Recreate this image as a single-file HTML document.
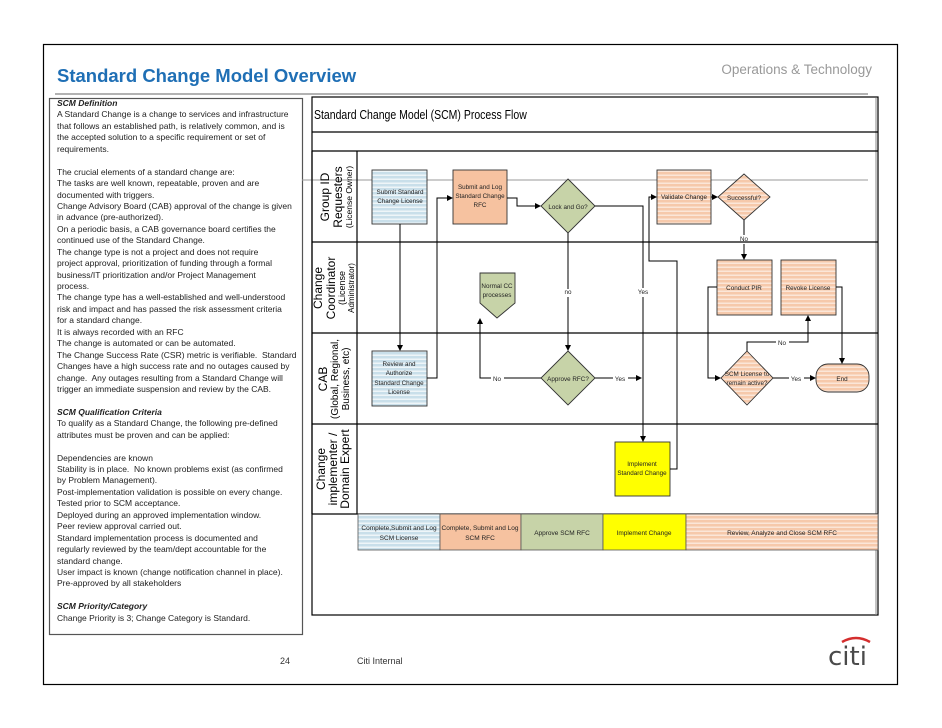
<!DOCTYPE html>
<html><head><meta charset="utf-8"><style>
body{margin:0;width:942px;height:728px;background:#fff;position:relative;overflow:hidden;font-family:"Liberation Sans",sans-serif}
.lt{position:absolute;left:57px;font-family:"Liberation Sans",sans-serif;font-size:8.5px;color:#222;white-space:nowrap;line-height:11px}
.b{font-weight:bold;font-style:italic}
</style></head><body>
<svg width="942" height="728" style="position:absolute;left:0;top:0" font-family="Liberation Sans, sans-serif">
<defs>
<pattern id="bs" width="4" height="4" patternUnits="userSpaceOnUse"><rect width="4" height="4" fill="#c9dfea"/><rect y="2.5" width="4" height="1.5" fill="#eef5f8"/></pattern>
<pattern id="os" width="4" height="4" patternUnits="userSpaceOnUse"><rect width="4" height="4" fill="#f6c9ab"/><rect y="2.5" width="4" height="1.5" fill="#fbe6d8"/></pattern>
<marker id="a" markerWidth="6" markerHeight="6" refX="5" refY="3" orient="auto" markerUnits="userSpaceOnUse"><path d="M0,0 L6,3 L0,6z" fill="#000"/></marker>
</defs>
<rect x="43.5" y="44.5" width="854" height="640" fill="none" stroke="#000" stroke-width="1.2"/>
<text x="57" y="82" font-size="18.5" font-weight="bold" fill="#1f6fb5">Standard Change Model Overview</text>
<text x="872" y="74" font-size="13.5" fill="#999" text-anchor="end">Operations &amp; Technology</text>
<line x1="55" y1="94" x2="868" y2="94" stroke="#999" stroke-width="1.5"/>
<rect x="49.5" y="98.5" width="253" height="536" fill="#fff" stroke="#555" stroke-width="1.2"/>
<rect x="312" y="97" width="566" height="518" fill="#fff" stroke="#000" stroke-width="1.2"/>
<line x1="876" y1="98" x2="876" y2="615" stroke="#888" stroke-width="1"/>
<line x1="302" y1="180" x2="868" y2="180" stroke="#999" stroke-width="1"/>
<text x="314" y="119" font-size="12.5" transform="translate(314 0) scale(0.84,1) translate(-314 0)">Standard Change Model (SCM) Process Flow</text>
<g stroke="#000" stroke-width="1.2" fill="none">
<line x1="312" y1="132" x2="878" y2="132"/>
<line x1="312" y1="151" x2="878" y2="151"/>
<line x1="312" y1="242" x2="878" y2="242"/>
<line x1="312" y1="333" x2="878" y2="333"/>
<line x1="312" y1="424" x2="878" y2="424"/>
<line x1="312" y1="514" x2="878" y2="514"/>
<line x1="357" y1="151" x2="357" y2="514"/>
<line x1="312" y1="151" x2="312" y2="514"/>
</g>
<g font-size="12" text-anchor="middle" fill="#000">
<g transform="translate(335,197) rotate(-90)"><text y="-6">Group ID</text><text y="7">Requesters</text><text y="17" font-size="8.5">(License Owner)</text></g>
<g transform="translate(333,288) rotate(-90)"><text y="-11">Change</text><text y="2">Coordinator</text><text y="12" font-size="9">(License</text><text y="21" font-size="8">Administrator)</text></g>
<g transform="translate(333,379) rotate(-90)"><text y="-6">CAB</text><text y="5" font-size="10">(Global, Regional,</text><text y="16" font-size="10">Business, etc)</text></g>
<g transform="translate(335,469) rotate(-90)"><text y="-10">Change</text><text y="2">implementer /</text><text y="14">Domain Expert</text></g>
</g>
<g stroke="#555" stroke-width="0.8">
<rect x="358" y="514" width="82" height="36" fill="url(#bs)"/>
<rect x="440" y="514" width="81" height="36" fill="#f6c2a0"/>
<rect x="521" y="514" width="82" height="36" fill="#c7d3a8"/>
<rect x="603" y="514" width="83" height="36" fill="#ffff00"/>
<rect x="686" y="514" width="192" height="36" fill="url(#os)"/>
</g>
<g font-size="6.5" text-anchor="middle" fill="#222">
<text x="399" y="530">Complete,Submit and Log</text><text x="399" y="540">SCM License</text>
<text x="480" y="530">Complete, Submit and Log</text><text x="480" y="540">SCM RFC</text>
<text x="562" y="535">Approve SCM RFC</text>
<text x="644" y="535">Implement Change</text>
<text x="782" y="535">Review, Analyze and Close SCM RFC</text>
</g>
<g stroke="#333" stroke-width="0.9">
<rect x="372" y="170" width="55" height="54" fill="url(#bs)"/>
<rect x="453" y="170" width="54" height="54" fill="#f6c2a0"/>
<polygon points="568,179 595,206 568,233 541,206" fill="#c7d3a8"/>
<rect x="657" y="170" width="54" height="54" fill="url(#os)"/>
<polygon points="744,174 770,197 744,220 718,197" fill="url(#os)"/>
<rect x="717" y="260" width="55" height="55" fill="url(#os)"/>
<rect x="781" y="260" width="55" height="55" fill="url(#os)"/>
<polygon points="480,273 515,273 515,303 497,318 480,303" fill="#c7d3a8"/>
<rect x="372" y="351" width="55" height="55" fill="url(#bs)"/>
<polygon points="568,351 595,378 568,405 541,378" fill="#c7d3a8"/>
<polygon points="747,351 773,378 747,405 721,378" fill="url(#os)"/>
<rect x="816" y="364" width="53" height="28" rx="12" fill="url(#os)"/>
<rect x="615" y="442" width="55" height="54" fill="#ffff00"/>
</g>
<g font-size="6.3" text-anchor="middle" fill="#222">
<text x="400" y="194">Submit Standard</text><text x="400" y="203">Change License</text>
<text x="480" y="189">Submit and Log</text><text x="480" y="198">Standard Change</text><text x="480" y="207">RFC</text>
<text x="568" y="209">Lock and Go?</text>
<text x="684" y="199">Validate Change</text>
<text x="744" y="200">Successful?</text>
<text x="744" y="241">No</text>
<text x="744" y="290">Conduct PIR</text>
<text x="808" y="290">Revoke License</text>
<text x="497" y="288">Normal CC</text><text x="497" y="297">processes</text>
<text x="568" y="294">no</text>
<text x="643" y="294">Yes</text>
<text x="399" y="366">Review and</text><text x="399" y="375">Authorize</text><text x="399" y="385">Standard Change</text><text x="399" y="394">License</text>
<text x="568" y="381">Approve RFC?</text>
<text x="497" y="381">No</text>
<text x="620" y="381">Yes</text>
<text x="747" y="376">SCM License to</text><text x="747" y="385">remain active?</text>
<text x="796" y="381">Yes</text>
<text x="782" y="345">No</text>
<text x="842" y="381">End</text>
<text x="642" y="466">Implement</text><text x="642" y="475">Standard Change</text>
</g>
<g stroke="#000" stroke-width="1" fill="none">
<path d="M400,224 V350" marker-end="url(#a)"/>
<path d="M427,378 H437 V198 H452" marker-end="url(#a)"/>
<path d="M507,198 H517 V206 H540" marker-end="url(#a)"/>
<path d="M595,206 H643 V288 M643,297 V441" marker-end="url(#a)"/>
<path d="M568,233 V289 M568,297 V350" marker-end="url(#a)"/>
<path d="M541,378 H504 M491,378 H480 V319" marker-end="url(#a)"/>
<path d="M595,378 H613 M628,378 H641" marker-end="url(#a)"/>
<path d="M670,469 H677 V261 H649 V197 H656" marker-end="url(#a)"/>
<path d="M711,197 H717" marker-end="url(#a)"/>
<path d="M744,220 V235 M744,244 V259" marker-end="url(#a)"/>
<path d="M717,287 H708 V378 H720" marker-end="url(#a)"/>
<path d="M747,351 V342 H776 M789,342 H808 V316" marker-end="url(#a)"/>
<path d="M773,378 H789 M804,378 H815" marker-end="url(#a)"/>
<path d="M836,287 H842 V363" marker-end="url(#a)"/>
</g>
<text x="280" y="664" font-size="9" fill="#333">24</text>
<text x="357" y="664" font-size="9" fill="#333">Citi Internal</text>
<text x="828" y="665" font-size="26" fill="#4a4a4a" font-family="DejaVu Sans, sans-serif">citi</text>
<path d="M842,642 Q856,634 870,642" stroke="#d42e2e" stroke-width="2.5" fill="none"/>
</svg>
<div class="lt" style="top:98px;line-height:11.44px">
<span class="b">SCM Definition</span><br>
A Standard Change is a change to services and infrastructure<br>
that follows an established path, is relatively common, and is<br>
the accepted solution to a specific requirement or set of<br>
requirements.<br><br>
The crucial elements of a standard change are:<br>
The tasks are well known, repeatable, proven and are<br>
documented with triggers.<br>
Change Advisory Board (CAB) approval of the change is given<br>
in advance (pre-authorized).<br>
On a periodic basis, a CAB governance board certifies the<br>
continued use of the Standard Change.<br>
The change type is not a project and does not require<br>
project approval, prioritization of funding through a formal<br>
business/IT prioritization and/or Project Management<br>
process.<br>
The change type has a well-established and well-understood<br>
risk and impact and has passed the risk assessment criteria<br>
for a standard change.<br>
It is always recorded with an RFC<br>
The change is automated or can be automated.<br>
The Change Success Rate (CSR) metric is verifiable.&nbsp; Standard<br>
Changes have a high success rate and no outages caused by<br>
change.&nbsp; Any outages resulting from a Standard Change will<br>
trigger an immediate suspension and review by the CAB.<br><br>
<span class="b">SCM Qualification Criteria</span><br>
To qualify as a Standard Change, the following pre-defined<br>
attributes must be proven and can be applied:<br><br>
Dependencies are known<br>
Stability is in place.&nbsp; No known problems exist (as confirmed<br>
by Problem Management).<br>
Post-implementation validation is possible on every change.<br>
Tested prior to SCM acceptance.<br>
Deployed during an approved implementation window.<br>
Peer review approval carried out.<br>
Standard implementation process is documented and<br>
regularly reviewed by the team/dept accountable for the<br>
standard change.<br>
User impact is known (change notification channel in place).<br>
Pre-approved by all stakeholders<br><br>
<span class="b">SCM Priority/Category</span><br>
Change Priority is 3; Change Category is Standard.
</div>
</body></html>
